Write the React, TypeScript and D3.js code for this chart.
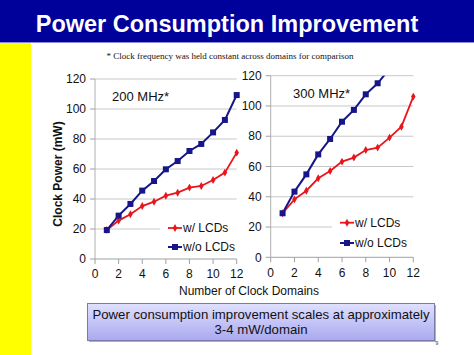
import React from "react";
import * as d3 from "d3";

const domains = [1, 2, 3, 4, 5, 6, 7, 8, 9, 10, 11, 12];
const xTicks = [0, 2, 4, 6, 8, 10, 12];
const yTicks = [0, 20, 40, 60, 80, 100, 120];

const withLcd200 = [19.3, 25.6, 29.8, 35.3, 38.2, 42.2, 44.2, 47.6, 48.7, 52.7, 57.6, 70.9];
const withoutLcd200 = [19.3, 28.9, 36.7, 45.6, 52.0, 59.8, 65.3, 72.0, 76.7, 84.4, 92.7, 109.3];
const withLcd300 = [29.1, 38.3, 44.0, 52.2, 57.0, 63.2, 65.9, 70.9, 72.5, 79.1, 86.3, 106.2];
const withoutLcd300 = [29.1, 43.4, 54.8, 68.0, 78.2, 89.6, 97.4, 107.7, 115.0, 124.5, 134.0, 147.0];

const RED = "#e8161c";
const BLUE = "#16168a";
const FONT = "Liberation Sans, Arial, sans-serif";

type PanelProps = {
  id: string;
  x0: number; x1: number; yTop: number; yBot: number;
  red: number[]; blue: number[];
  label: string; labelX: number; labelY: number;
  legX: number; legY1: number; legY2: number;
};

function Panel(p: PanelProps) {
  const x = d3.scaleLinear().domain([0, 12]).range([p.x0, p.x1]);
  const y = d3.scaleLinear().domain([0, 120]).range([p.yBot, p.yTop]);
  const line = d3.line<number>().x((_, i) => x(domains[i])).y((v) => y(v));
  const clipId = "clip-" + p.id;
  return (
    <g>
      <defs>
        <clipPath id={clipId}>
          <rect x={p.x0 - 6} y={p.yTop} width={p.x1 - p.x0 + 12} height={p.yBot - p.yTop + 6} />
        </clipPath>
      </defs>
      {yTicks.filter((t) => t > 0).map((t) => (
        <line key={t} x1={p.x0} x2={p.x1} y1={y(t)} y2={y(t)} stroke="#c8c8c8" strokeWidth={1} />
      ))}
      <line x1={p.x0} x2={p.x0} y1={p.yTop} y2={p.yBot} stroke="#b0b0b0" strokeWidth={1} />
      <line x1={p.x0} x2={p.x1} y1={p.yBot} y2={p.yBot} stroke="#a0a0a0" strokeWidth={1} />
      {yTicks.map((t) => (
        <g key={"y" + t}>
          <line x1={p.x0 - 5} x2={p.x0} y1={y(t)} y2={y(t)} stroke="#a0a0a0" />
          <text x={p.x0 - 9} y={y(t)} dy="0.35em" textAnchor="end" fontSize={12} fontFamily={FONT} fill="#111">{t}</text>
        </g>
      ))}
      {xTicks.map((t) => (
        <g key={"x" + t}>
          <line x1={x(t)} x2={x(t)} y1={p.yBot} y2={p.yBot + 5} stroke="#a0a0a0" />
          <text x={x(t)} y={p.yBot + 15} dy="0.35em" textAnchor="middle" fontSize={12} fontFamily={FONT} fill="#111">{t}</text>
        </g>
      ))}
      <text x={p.labelX} y={p.labelY} dy="0.35em" fontSize={13} fontFamily={FONT} fill="#111">{p.label}</text>
      <rect x={p.legX - 8} y={p.legY1 - 9} width={p.x1 - p.legX + 8} height={p.legY2 - p.legY1 + 16} fill="#fff" />
      <g clipPath={`url(#${clipId})`}>
        <path d={line(p.red) || ""} fill="none" stroke={RED} strokeWidth={1.8} />
        <path d={line(p.blue) || ""} fill="none" stroke={BLUE} strokeWidth={2} />
        {p.red.map((v, i) => (
          <path key={"r" + i} d={d3.symbol(d3.symbolDiamond, 18)() || ""} transform={`translate(${x(domains[i])},${y(v)})`} fill={RED} />
        ))}
        {p.blue.map((v, i) => (
          <rect key={"b" + i} x={x(domains[i]) - 3} y={y(v) - 3} width={6} height={6} fill={BLUE} />
        ))}
      </g>
      <line x1={p.legX} x2={p.legX + 14} y1={p.legY1} y2={p.legY1} stroke={RED} strokeWidth={1.8} />
      <path d={d3.symbol(d3.symbolDiamond, 18)() || ""} transform={`translate(${p.legX + 7},${p.legY1})`} fill={RED} />
      <text x={p.legX + 15} y={p.legY1} dy="0.35em" fontSize={12} fontFamily={FONT} fill="#111">w/ LCDs</text>
      <line x1={p.legX} x2={p.legX + 14} y1={p.legY2} y2={p.legY2} stroke={BLUE} strokeWidth={2} />
      <rect x={p.legX + 4} y={p.legY2 - 3} width={6} height={6} fill={BLUE} />
      <text x={p.legX + 15} y={p.legY2} dy="0.35em" fontSize={12} fontFamily={FONT} fill="#111">w/o LCDs</text>
    </g>
  );
}

export default function App() {
  return (
    <svg width={474} height={355} style={{ position: "absolute", left: 0, top: 0, background: "#fff" }}>
      <defs>
        <linearGradient id="boxGrad" x1="0" y1="0" x2="0" y2="1">
          <stop offset="0" stopColor="#e0e0ff" />
          <stop offset="1" stopColor="#a9a9ef" />
        </linearGradient>
      </defs>
      <rect x={0} y={0} width={474} height={355} fill="#fff" />
      <rect x={0} y={0} width={474} height={42} fill="#00009a" />
      <line x1={0} x2={474} y1={42.5} y2={42.5} stroke="#8c8cd8" strokeWidth={1} />
      <rect x={0} y={43} width={31} height={312} fill="#ffff00" />
      <text x={227} y={32} textAnchor="middle" fontSize={23.5} fontWeight="bold" fontFamily={FONT} fill="#fff">Power Consumption Improvement</text>
      <text x={230} y={56} dy="0.35em" textAnchor="middle" fontSize={9} fontFamily="Liberation Serif, Times New Roman, serif" fill="#111">* Clock frequency was held constant across domains for comparison</text>

      <Panel id="a" x0={95} x1={236.7} yTop={79} yBot={259}
        red={withLcd200} blue={withoutLcd200}
        label="200 MHz*" labelX={112} labelY={96}
        legX={168} legY1={228} legY2={247} />
      <Panel id="b" x0={270.7} x1={413.3} yTop={75.7} yBot={257.3}
        red={withLcd300} blue={withoutLcd300}
        label="300 MHz*" labelX={293} labelY={93.5}
        legX={340} legY1={222.7} legY2={243} />

      <text transform="translate(58,174) rotate(-90)" textAnchor="middle" dy="0.35em" fontSize={12} fontWeight="bold" fontFamily={FONT} fill="#111">Clock Power  (mW)</text>
      <text x={249} y={291} dy="0.35em" textAnchor="middle" fontSize={12} fontFamily={FONT} fill="#111">Number of Clock Domains</text>

      <rect x={89} y={305} width={347} height={37} fill="#666" opacity={0.5} />
      <rect x={87.5} y={303.5} width={347} height={37} fill="url(#boxGrad)" stroke="#7a7aa8" strokeWidth={1} />
      <text x={261} y={314} dy="0.35em" textAnchor="middle" fontSize={13.2} fontFamily={FONT} fill="#111">Power consumption improvement scales at approximately</text>
      <text x={261} y={329} dy="0.35em" textAnchor="middle" fontSize={13.2} fontFamily={FONT} fill="#111">3-4 mW/domain</text>
      <text x={437} y={345} textAnchor="middle" fontSize={5} fontFamily={FONT} fill="#333">9</text>
    </svg>
  );
}
